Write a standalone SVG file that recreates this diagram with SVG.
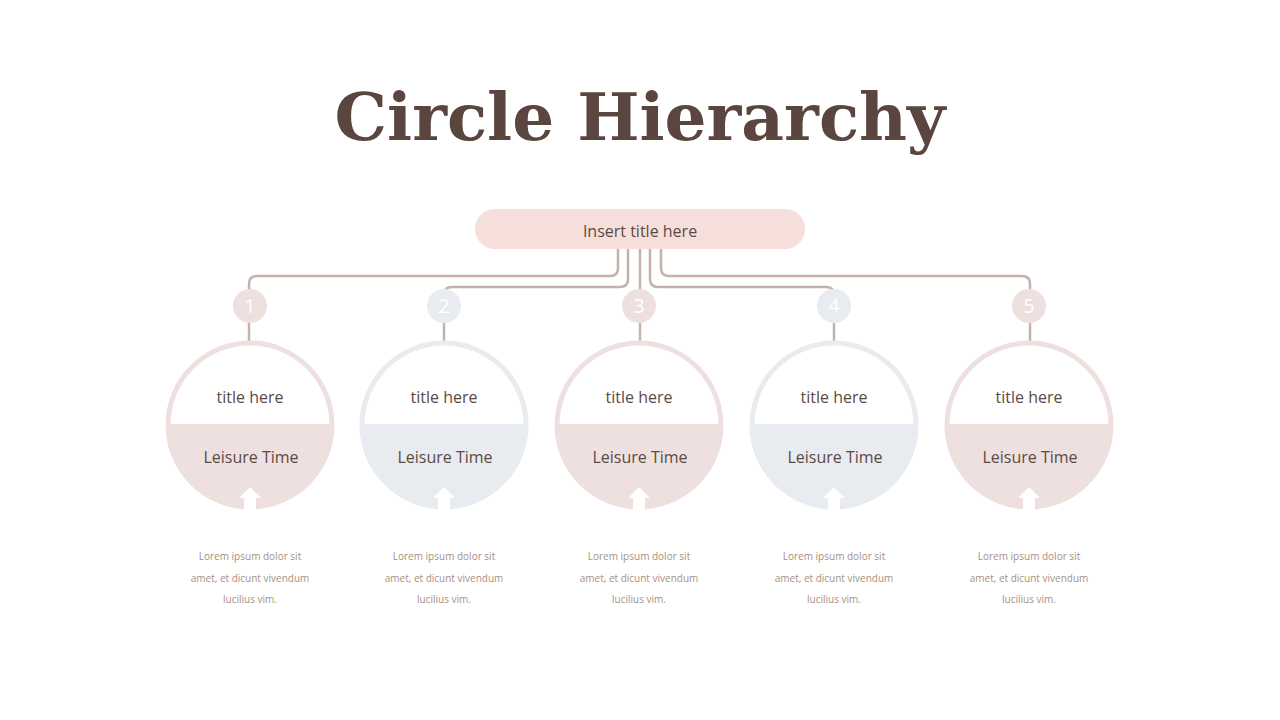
<svg xmlns="http://www.w3.org/2000/svg" width="1280" height="720" viewBox="0 0 1280 720">
<style>
.ln{fill:none;stroke:#c4b3ab;stroke-width:2.5}
.t{font-family:"Open Sans","Liberation Sans",sans-serif;fill:#5a4a46;text-anchor:middle}
.num{font-family:"Open Sans","Liberation Sans",sans-serif;fill:#fff;font-size:20px;text-anchor:middle}
.s{font-family:"Open Sans","Liberation Sans",sans-serif;fill:#a58f86;font-size:10px;text-anchor:middle}
</style>
<defs>
<clipPath id="cb"><rect x="-100" y="424" width="200" height="100"/></clipPath>
</defs>
<rect width="1280" height="720" fill="#fff"/>
<text x="640" y="140" font-family="'DejaVu Serif','Liberation Serif',serif" font-weight="bold" font-size="66" fill="#5a463f" text-anchor="middle">Circle Hierarchy</text>
<g id="connectors">
<path class="ln" d="M618 249V268Q618 276 610 276H257Q249 276 249 284V341"/>
<path class="ln" d="M628 249V279Q628 287 620 287H452Q444 287 444 295V341"/>
<path class="ln" d="M640 249V341"/>
<path class="ln" d="M650 249V279Q650 287 658 287H826Q834 287 834 295V341"/>
<path class="ln" d="M661 249V268Q661 276 669 276H1022Q1030 276 1030 284V341"/>
</g>
<g id="root"><rect x="475" y="209" width="330" height="40" rx="20" fill="#f6dfdb"/><text class="t" x="640" y="237" font-size="16">Insert title here</text></g>
<g id="n1" transform="translate(250,0)">
<circle cx="0" cy="306" r="17" fill="#efe0e0"/><text class="num" x="0" y="313">1</text>
<circle cx="0" cy="425" r="82" fill="#fff" stroke="#efe0e0" stroke-width="5"/>
<circle cx="0" cy="425" r="84" fill="#efe0e0" clip-path="url(#cb)"/>
<path d="M-6 510V498H-11L0 487L11 498H6V510Z" fill="#fff"/>
<text class="t" x="0" y="403" font-size="16">title here</text><text class="t" x="1" y="463" font-size="16">Leisure Time</text>
<text class="s" x="0" y="560">Lorem ipsum dolor sit</text><text class="s" x="0" y="582">amet, et dicunt vivendum</text><text class="s" x="0" y="603">lucilius vim.</text>
</g>
<g id="n2" transform="translate(444,0)">
<circle cx="0" cy="306" r="17" fill="#e8ebf0"/><text class="num" x="0" y="313">2</text>
<circle cx="0" cy="425" r="82" fill="#fff" stroke="#e8ebf0" stroke-width="5"/>
<circle cx="0" cy="425" r="84" fill="#e8ebf0" clip-path="url(#cb)"/>
<path d="M-6 510V498H-11L0 487L11 498H6V510Z" fill="#fff"/>
<text class="t" x="0" y="403" font-size="16">title here</text><text class="t" x="1" y="463" font-size="16">Leisure Time</text>
<text class="s" x="0" y="560">Lorem ipsum dolor sit</text><text class="s" x="0" y="582">amet, et dicunt vivendum</text><text class="s" x="0" y="603">lucilius vim.</text>
</g>
<g id="n3" transform="translate(639,0)">
<circle cx="0" cy="306" r="17" fill="#efe0e0"/><text class="num" x="0" y="313">3</text>
<circle cx="0" cy="425" r="82" fill="#fff" stroke="#efe0e0" stroke-width="5"/>
<circle cx="0" cy="425" r="84" fill="#efe0e0" clip-path="url(#cb)"/>
<path d="M-6 510V498H-11L0 487L11 498H6V510Z" fill="#fff"/>
<text class="t" x="0" y="403" font-size="16">title here</text><text class="t" x="1" y="463" font-size="16">Leisure Time</text>
<text class="s" x="0" y="560">Lorem ipsum dolor sit</text><text class="s" x="0" y="582">amet, et dicunt vivendum</text><text class="s" x="0" y="603">lucilius vim.</text>
</g>
<g id="n4" transform="translate(834,0)">
<circle cx="0" cy="306" r="17" fill="#e8ebf0"/><text class="num" x="0" y="313">4</text>
<circle cx="0" cy="425" r="82" fill="#fff" stroke="#e8ebf0" stroke-width="5"/>
<circle cx="0" cy="425" r="84" fill="#e8ebf0" clip-path="url(#cb)"/>
<path d="M-6 510V498H-11L0 487L11 498H6V510Z" fill="#fff"/>
<text class="t" x="0" y="403" font-size="16">title here</text><text class="t" x="1" y="463" font-size="16">Leisure Time</text>
<text class="s" x="0" y="560">Lorem ipsum dolor sit</text><text class="s" x="0" y="582">amet, et dicunt vivendum</text><text class="s" x="0" y="603">lucilius vim.</text>
</g>
<g id="n5" transform="translate(1029,0)">
<circle cx="0" cy="306" r="17" fill="#efe0e0"/><text class="num" x="0" y="313">5</text>
<circle cx="0" cy="425" r="82" fill="#fff" stroke="#efe0e0" stroke-width="5"/>
<circle cx="0" cy="425" r="84" fill="#efe0e0" clip-path="url(#cb)"/>
<path d="M-6 510V498H-11L0 487L11 498H6V510Z" fill="#fff"/>
<text class="t" x="0" y="403" font-size="16">title here</text><text class="t" x="1" y="463" font-size="16">Leisure Time</text>
<text class="s" x="0" y="560">Lorem ipsum dolor sit</text><text class="s" x="0" y="582">amet, et dicunt vivendum</text><text class="s" x="0" y="603">lucilius vim.</text>
</g>
</svg>
